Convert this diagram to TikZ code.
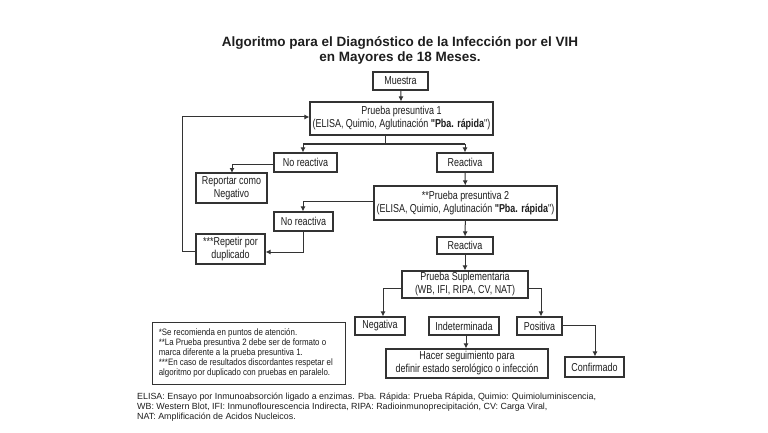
\documentclass[tikz,border=0pt]{standalone}
\usepackage{fontspec}
\setmainfont{Liberation Sans}
\newfontfamily\narrowfont[FakeStretch=0.85]{Liberation Sans}
\newfontfamily\boxfont[FakeStretch=0.78]{Liberation Sans}
\usetikzlibrary{arrows.meta}
\definecolor{linec}{HTML}{333333}
\definecolor{txt}{HTML}{1E1E1E}
\begin{document}
\begin{tikzpicture}[x=1pt,y=-1pt,
  box/.style={draw=linec, line width=1.1pt, fill=white, inner sep=0pt, align=center,
    text=txt, font={\boxfont\fontsize{11.5}{13}\selectfont}},
  arr/.style={draw=linec, line width=1pt, -{Latex[length=5pt,width=5pt]}},
  ln/.style={draw=linec, line width=1pt}]
\useasboundingbox[fill=white] (0,0) rectangle (768,433);

% title
\node[align=center, text=txt, font={\bfseries\fontsize{13.5}{15}\selectfont}] (title) at (400,50)
  {Algoritmo para el Diagnóstico de la Infección por el VIH\\en Mayores de 18 Meses.};

% boxes
\node[box, minimum width=55, minimum height=18] (muestra) at (400.5,81) {Muestra};
\node[box, minimum width=183, minimum height=33] (p1) at (401.5,118.5)
  {Prueba presuntiva 1\\(ELISA, Quimio, Aglutinación \textbf{"Pba. rápida}")};
\node[box, minimum width=63, minimum height=19] (nr1) at (305.5,162.5) {No reactiva};
\node[box, minimum width=56, minimum height=19] (r1) at (465,162.5) {Reactiva};
\node[box, minimum width=71, minimum height=30] (rep) at (231.5,188) {Reportar como\\Negativo};
\node[box, minimum width=183, minimum height=34] (p2) at (465.5,203)
  {**Prueba presuntiva 2\\(ELISA, Quimio, Aglutinación \textbf{"Pba. rápida}")};
\node[box, minimum width=59, minimum height=19] (nr2) at (303.5,221.5) {No reactiva};
\node[box, minimum width=69, minimum height=30] (rept) at (230.5,249) {***Repetir por\\duplicado};
\node[box, minimum width=56, minimum height=17] (r2) at (465,245.5) {Reactiva};
\node[box, minimum width=126, minimum height=27] (ps) at (465,284.5) {Prueba Suplementaria\\(WB, IFI, RIPA, CV, NAT)};
\node[box, minimum width=50, minimum height=18] (neg) at (380,326) {Negativa};
\node[box, minimum width=70, minimum height=18] (ind) at (464,326) {Indeterminada};
\node[box, minimum width=45, minimum height=18] (pos) at (539.5,326) {Positiva};
\node[box, minimum width=162, minimum height=29] (hacer) at (467,363.5) {Hacer seguimiento para\\definir estado serológico o infección};
\node[box, minimum width=59, minimum height=20] (conf) at (594.5,367) {Confirmado};

% notes box
\node[draw=linec, line width=0.8pt, inner sep=0pt, minimum width=193, minimum height=62] (notes) at (248.5,353) {};
\node[anchor=west, align=left, inner sep=0pt, text=txt, font={\narrowfont\fontsize{9.3}{10}\selectfont}] (notestxt) at ([xshift=7pt]notes.west)
  {*Se recomienda en puntos de atención.\\**La Prueba presuntiva 2 debe ser de formato o\\marca diferente a la prueba presuntiva 1.\\***En caso de resultados discordantes respetar el\\algoritmo por duplicado con pruebas en paralelo.};

% footnote
\node[anchor=north west, align=left, inner sep=0pt, text=txt, font={\fontsize{8.9}{10}\selectfont}] (foot) at (137,393)
  {ELISA: Ensayo por Inmunoabsorción ligado a enzimas. Pba. Rápida: Prueba Rápida, Quimio: Quimioluminiscencia,\\WB: Western Blot, IFI: Inmunoflourescencia Indirecta, RIPA: Radioinmunoprecipitación, CV: Carga Viral,\\NAT: Amplificación de Acidos Nucleicos.};

% coordinates
\coordinate (s1) at (385,144);
\coordinate (bl) at (303,144);
\coordinate (br) at (465,144);

% connectors
\draw[arr] (muestra) -- (p1);
\draw[ln] (p1.south -| s1) -- (s1);
\draw[arr] (bl) -| (nr1.north -| bl) ;
\draw[ln] (bl) -- (br);
\draw[arr] (br) -- (r1.north -| br);
\draw[arr] (nr1.west |- 0,164) -| (232,173);
\draw[arr] (r1) -- (p2);
\draw[arr] (p2.west |- 0,201) -| (nr2.north -| 303,0);
\draw[arr] (nr2.south -| 303,0) |- (rept.east |- 0,252);
\draw[arr] (rept.west |- 0,251) -| (182,117) -- (p1.west |- 0,117);
\draw[arr] (p2) -- (r2);
\draw[arr] (r2) -- (ps);
\draw[arr] (ps.west |- 0,288) -| (neg.north -| 383,0);
\draw[arr] (ps.east |- 0,288) -| (pos.north -| 541,0);
\draw[arr] (ind.south -| 466,0) -- (hacer.north -| 466,0);
\draw[arr] (pos.east |- 0,325) -| (conf.north -| 595,0);
\end{tikzpicture}
\end{document}
